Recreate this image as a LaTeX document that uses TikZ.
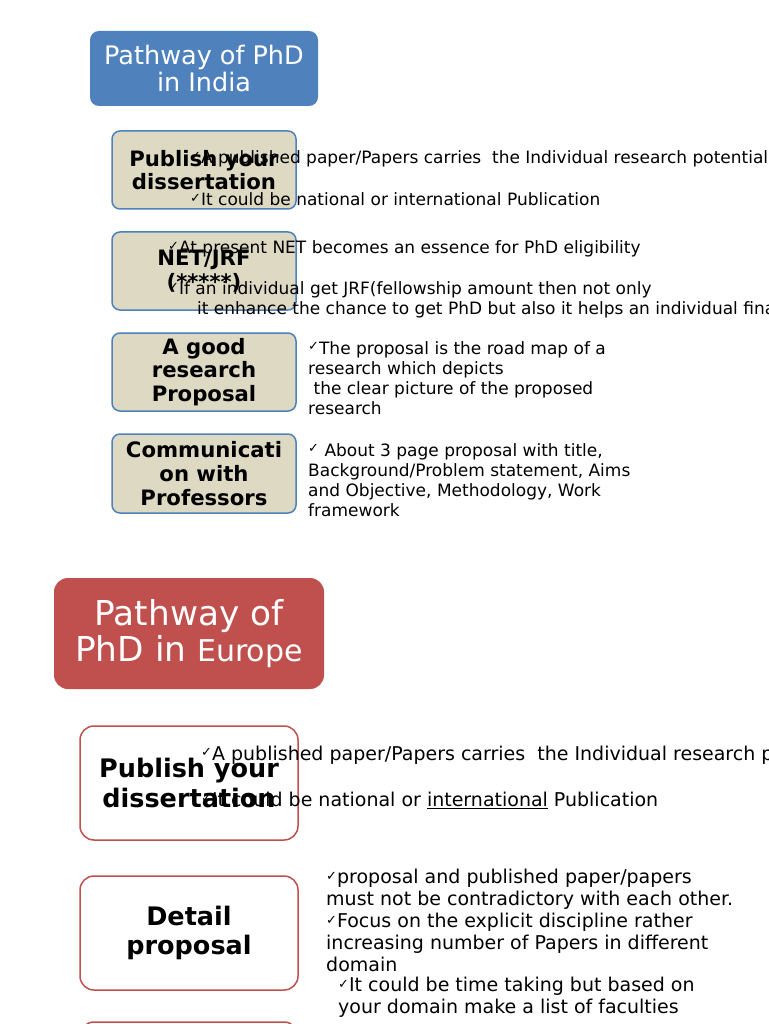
\documentclass[tikz,border=0pt]{standalone}
\usepackage{fontspec}
\setmainfont{DejaVu Sans}
\definecolor{tblue}{HTML}{4F81BD}
\definecolor{tred}{HTML}{C0504D}
\definecolor{tan}{HTML}{DDD9C3}
\newcommand{\ck}{\raisebox{0.35ex}{\fontsize{13}{13}\selectfont ✓}}
\newcommand{\fs}[1]{\fontsize{#1}{#1}\selectfont}
\begin{document}
\begin{tikzpicture}[x=1pt,y=-1pt,
  ibox/.style={draw=tblue,line width=1.5pt,fill=tan,rounded corners=8pt,align=center,font=\bfseries\fs{21.2}\linespread{1.12}\selectfont},
  ebox/.style={draw=tred,line width=1.5pt,fill=white,rounded corners=14pt,align=center,font=\bfseries\fs{25.5}\linespread{1.17}\selectfont},
  it/.style={anchor=west,inner sep=0pt,font=\fs{17}},
  et/.style={anchor=west,inner sep=0pt,font=\fs{19}}]
\useasboundingbox (0,0) rectangle (768,1024);
\clip (0,0) rectangle (768,1024);
\fill[white] (0,0) rectangle (768,1024);
% India
\node[fill=tblue,rounded corners=9pt,minimum width=228pt,minimum height=75pt,text=white,align=center,font=\fs{25.5}\linespread{1.05}\selectfont] (ti) at (204,68.5) {Pathway of PhD\\in India};
\node[ibox,minimum width=184pt,minimum height=78pt] (b1) at (204,170) {Publish your\\dissertation};
\node[ibox,minimum width=184pt,minimum height=78pt] (b2) at (204,271) {NET/JRF\\(*****)};
\node[ibox,minimum width=184pt,minimum height=78pt] (b3) at (204,372) {A good\\research\\Proposal};
\node[ibox,minimum width=184pt,minimum height=79pt] (b4) at (204,473.5) {Communicati\\on with\\Professors};
\node[it] (t1) at (190,159) {\ck A published paper/Papers carries\ \ the Individual research potential};
\node[it] (t2) at (190,199) {\ck It could be national or international Publication};
\node[it] (t3) at (168,249) {\ck At present NET becomes an essence for PhD eligibility};
\node[it] (t4) at (168,290) {\ck If an individual get JRF(fellowship amount then not only};
\node[it] (t5) at (197,310) {it enhance the chance to get PhD but also it helps an individual financially};
\node[it,align=left,anchor=north west,font=\fs{17}\linespread{1.18}\selectfont] (t6) at (308,341) {\ck The proposal is the road map of a\\research which depicts\\\ the clear picture of the proposed\\research};
\node[it,align=left,anchor=north west,font=\fs{17}\linespread{1.18}\selectfont] (t7) at (308,443) {\ck\ About 3 page proposal with title,\\Background/Problem statement, Aims\\and Objective, Methodology, Work\\framework};
% Europe
\node[fill=tred,rounded corners=14pt,minimum width=270pt,minimum height=111pt,text=white,align=center,font=\fs{34.3}\linespread{1.05}\selectfont] (te) at (189,633.5) {Pathway of\\PhD in {\fs{30}Europe}};
\node[ebox,minimum width=218pt,minimum height=114pt] (e1) at (189,783) {Publish your\\dissertation};
\node[ebox,minimum width=218pt,minimum height=114pt] (e2) at (189,933) {Detail\\proposal};
\node[ebox,minimum width=218pt,minimum height=114pt] (e3) at (189,1079) {};
\node[et] (u1) at (201,755) {\ck A published paper/Papers carries\ \ the Individual research potential};
\node[et] (u2) at (201,800) {\ck It could be national or \underline{international} Publication};
\node[et,anchor=north west,align=left,font=\fs{19}\linespread{1.16}\selectfont] (u3) at (326,869) {\ck proposal and published paper/papers\\must not be contradictory with each other.\\\ck Focus on the explicit discipline rather\\increasing number of Papers in different\\domain};
\node[et,anchor=north west,align=left,font=\fs{19}\linespread{1.16}\selectfont] (u4) at (338,977) {\ck It could be time taking but based on\\your domain make a list of faculties};
\end{tikzpicture}
\end{document}
